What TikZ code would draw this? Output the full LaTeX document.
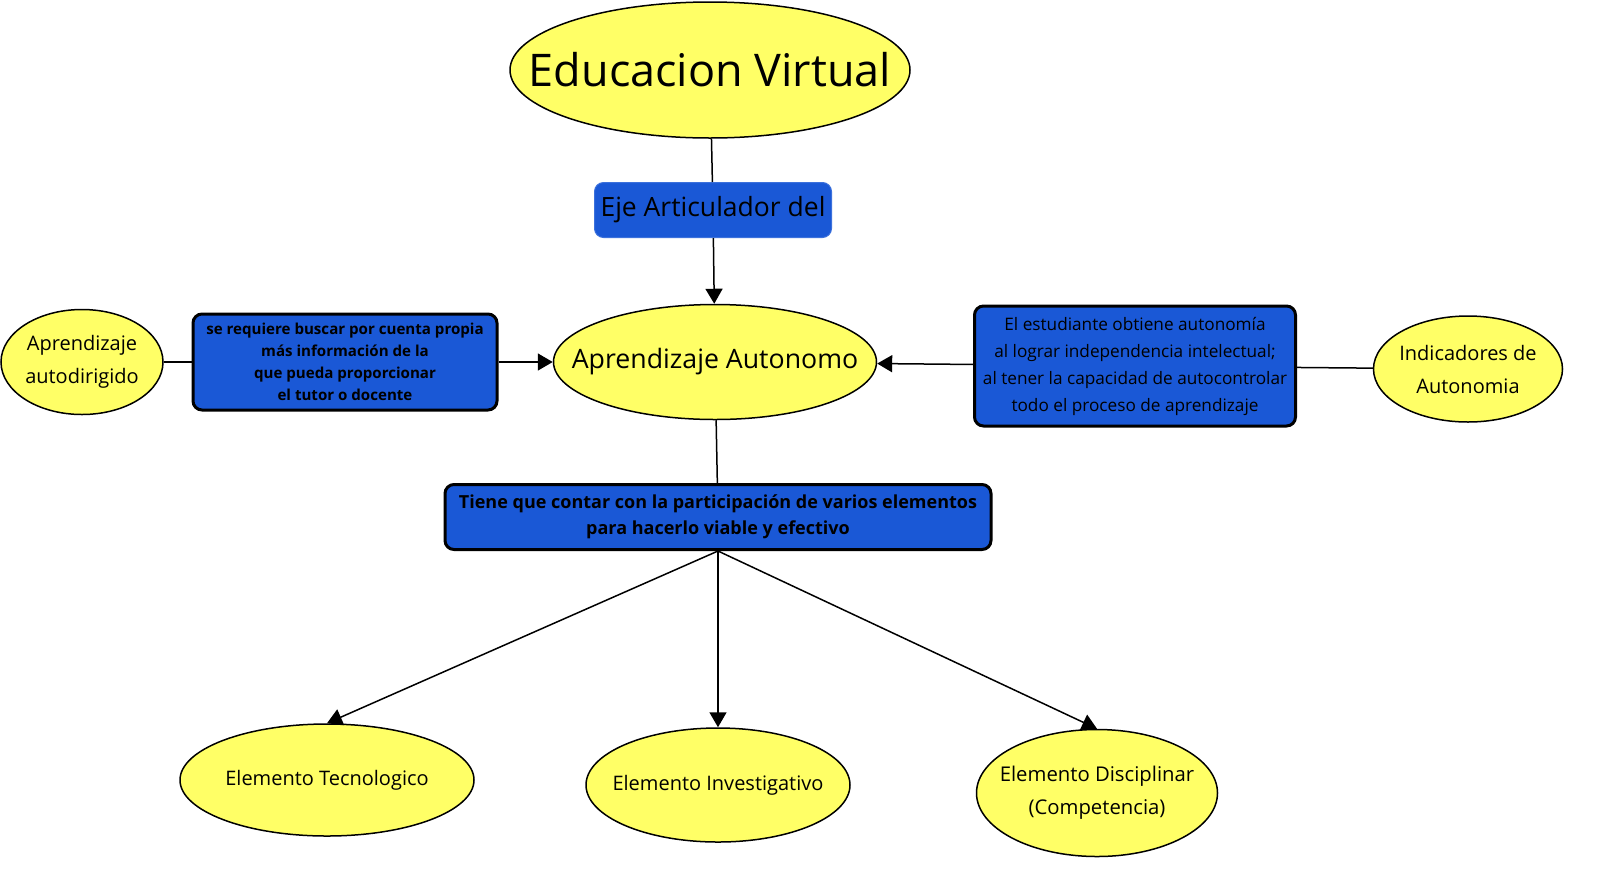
\documentclass[tikz,border=0pt]{standalone}
\usepackage{fontspec}
\setmainfont{Open Sans}
\usetikzlibrary{shapes.geometric}
\usetikzlibrary{arrows.meta}
\definecolor{amarillo}{RGB}{255,255,102}
\definecolor{azul}{RGB}{26,88,214}

\begin{document}
\begin{tikzpicture}[x=1pt,y=-1pt,
  concepto/.style={ellipse,draw=black,line width=1.5pt,fill=amarillo,inner sep=0pt},
  texto/.style={align=center,inner sep=0pt},
  enlace/.style={rectangle,rounded corners=9pt,draw=black,line width=3pt,fill=azul,inner sep=0pt,align=center},
  flecha/.style={line width=1.5pt,-{Triangle[width=17pt,length=15pt]}},
  linea/.style={line width=1.5pt}]
\useasboundingbox (0,0) rectangle (1600,879);
\node[concepto,minimum width=400pt,minimum height=136pt,
  label={[texto,font=\fontsize{45}{50}\selectfont]center:Educacion Virtual}] (ev) at (710,70) {};
\node[enlace,draw=azul!85!white,line width=1pt,minimum width=237pt,minimum height=55pt,font=\fontsize{26.5}{30}\selectfont] (eje) at (713,210) {Eje Articulador del};
\node[concepto,minimum width=323pt,minimum height=115pt,
  label={[texto,font=\fontsize{26.7}{30}\selectfont]center:Aprendizaje Autonomo}] (aa) at (715,362) {};
\node[enlace,minimum width=304pt,minimum height=96pt,font=\fontsize{15.1}{22}\selectfont\bfseries] (izq) at (345,362)
  {se requiere buscar por cuenta propia\\ más información de la\\ que pueda proporcionar\\ el tutor o docente};
\node[concepto,minimum width=162pt,minimum height=105pt,
  label={[texto,font=\fontsize{20}{33}\selectfont]center:Aprendizaje\\ autodirigido}] (auto) at (82,362) {};
\node[enlace,minimum width=321pt,minimum height=120pt,font=\fontsize{17.2}{27}\selectfont] (der) at (1135,366)
  {El estudiante obtiene autonomía\\ al lograr independencia intelectual;\\ al tener la capacidad de autocontrolar\\ todo el proceso de aprendizaje};
\node[concepto,minimum width=189pt,minimum height=106pt,
  label={[texto,font=\fontsize{20}{33}\selectfont]center:Indicadores de\\ Autonomia}] (ind) at (1468,369) {};
\node[enlace,minimum width=546pt,minimum height=65pt,font=\fontsize{18}{26}\selectfont\bfseries] (tiene) at (718,517)
  {Tiene que contar con la participación de varios elementos\\ para hacerlo viable y efectivo};
\node[concepto,minimum width=294pt,minimum height=112pt,
  label={[texto,font=\fontsize{20}{24}\selectfont]center:Elemento Tecnologico}] (tec) at (327,780) {};
\node[concepto,minimum width=264pt,minimum height=114pt,
  label={[texto,font=\fontsize{20}{24}\selectfont]center:Elemento Investigativo}] (inv) at (718,785) {};
\node[concepto,minimum width=241pt,minimum height=127pt,
  label={[texto,font=\fontsize{20.3}{33}\selectfont]center:Elemento Disciplinar\\ (Competencia)}] (dis) at (1097,793) {};
% conectores
\draw[linea] (ev) -- (eje);
\draw[flecha] (eje) -- (aa);
\draw[linea] (auto) -- (izq);
\draw[flecha] (izq) -- (aa);
\draw[linea] (ind) -- (der);
\draw[flecha] (der) -- (aa);
\draw[linea] (aa) -- (tiene);
\draw[flecha] (tiene.south) -- (tec.north);
\draw[flecha] (tiene.south) -- (inv.north);
\draw[flecha] (tiene.south) -- (dis.north);
\end{tikzpicture}
\end{document}
